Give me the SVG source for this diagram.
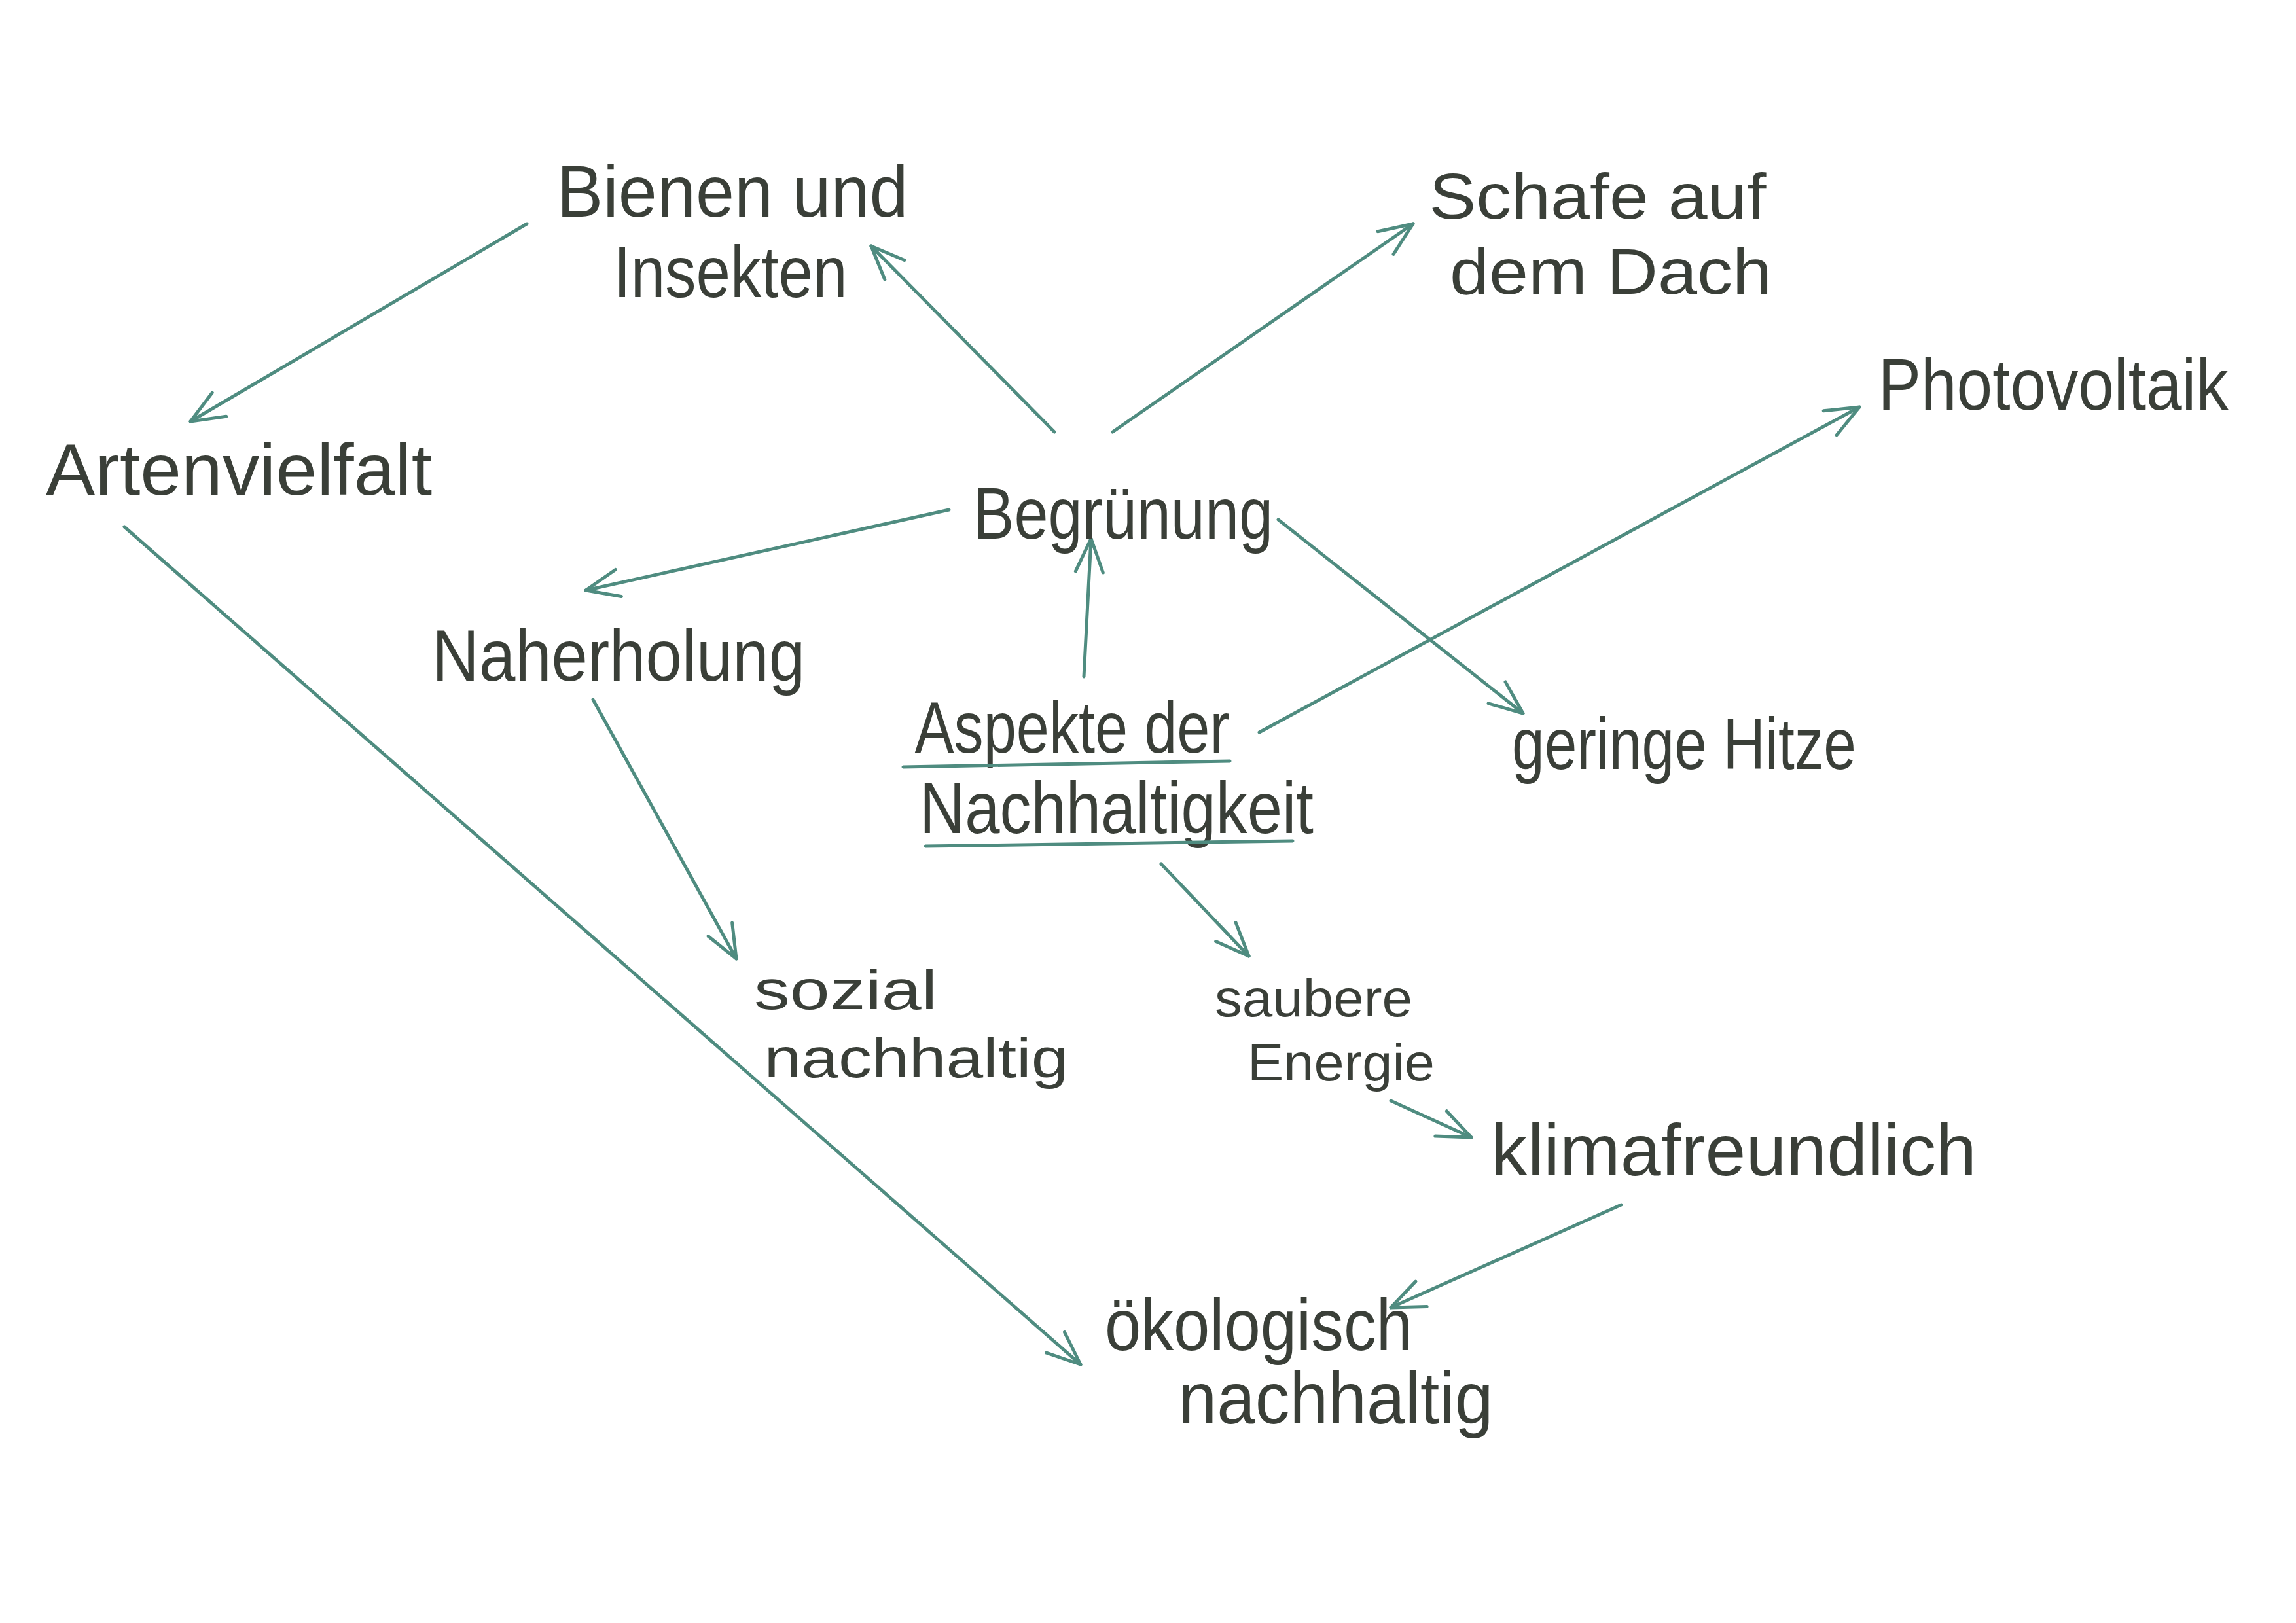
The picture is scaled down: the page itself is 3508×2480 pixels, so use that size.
<svg xmlns="http://www.w3.org/2000/svg" width="3508" height="2480" viewBox="0 0 3508 2480">
<defs>
<style>
.t{font-family:"Liberation Sans",Arial,sans-serif;font-size:112px;fill:#3a3f38;text-anchor:middle}
.m{font-size:98px}
.s{font-size:86px}
.xs{font-size:80px}
.c{stroke:#4f8c80;stroke-width:5;fill:none;stroke-linecap:round}
</style>
<marker id="ah" viewBox="-60 -30 70 60" markerWidth="70" markerHeight="60" refX="0" refY="0" orient="auto" markerUnits="userSpaceOnUse">
<path d="M-51,-21 L0,0 L-51,21" fill="none" stroke="#4f8c80" stroke-width="5" stroke-linecap="round" stroke-linejoin="round"/>
</marker>
</defs>
<rect width="3508" height="2480" fill="#ffffff"/>
<g id="connectors">
<line class="c" x1="1611" y1="660" x2="1331" y2="376" marker-end="url(#ah)"/>
<line class="c" x1="1700" y1="660" x2="2159" y2="342" marker-end="url(#ah)"/>
<line class="c" x1="805" y1="342" x2="291" y2="644" marker-end="url(#ah)"/>
<line class="c" x1="1450" y1="779" x2="895" y2="902" marker-end="url(#ah)"/>
<line class="c" x1="1953" y1="794" x2="2327" y2="1090" marker-end="url(#ah)"/>
<line class="c" x1="1656" y1="1034" x2="1667" y2="823" marker-end="url(#ah)"/>
<line class="c" x1="1924" y1="1119" x2="2841" y2="622" marker-end="url(#ah)"/>
<line class="c" x1="1774" y1="1320" x2="1908" y2="1461" marker-end="url(#ah)"/>
<line class="c" x1="906" y1="1069" x2="1125" y2="1465" marker-end="url(#ah)"/>
<line class="c" x1="190" y1="805" x2="1651" y2="2085" marker-end="url(#ah)"/>
<line class="c" x1="2125" y1="1682" x2="2248" y2="1738" marker-end="url(#ah)"/>
<line class="c" x1="2477" y1="1841" x2="2125" y2="1998" marker-end="url(#ah)"/>
</g>
<g id="node-bienen">
<text class="t" x="1119" y="331" textLength="537" lengthAdjust="spacingAndGlyphs">Bienen und</text>
<text class="t" x="1116" y="454" textLength="357" lengthAdjust="spacingAndGlyphs">Insekten</text>
</g>
<g id="node-schafe">
<text class="t m" x="2441" y="334" textLength="515" lengthAdjust="spacingAndGlyphs">Schafe auf</text>
<text class="t m" x="2461" y="449" textLength="492" lengthAdjust="spacingAndGlyphs">dem Dach</text>
</g>
<g id="node-photovoltaik">
<text class="t" x="3137" y="626" textLength="535" lengthAdjust="spacingAndGlyphs">Photovoltaik</text>
</g>
<g id="node-artenvielfalt">
<text class="t" x="365" y="756" textLength="590" lengthAdjust="spacingAndGlyphs">Artenvielfalt</text>
</g>
<g id="node-begruenung">
<text class="t" x="1716" y="823" textLength="458" lengthAdjust="spacingAndGlyphs">Begrünung</text>
</g>
<g id="node-naherholung">
<text class="t" x="945" y="1040" textLength="570" lengthAdjust="spacingAndGlyphs">Naherholung</text>
</g>
<g id="node-aspekte">
<text class="t" x="1638" y="1150" textLength="481" lengthAdjust="spacingAndGlyphs">Aspekte der</text>
<line class="c" x1="1380" y1="1172" x2="1879" y2="1163"/>
<text class="t" x="1706" y="1273" textLength="602" lengthAdjust="spacingAndGlyphs">Nachhaltigkeit</text>
<line class="c" x1="1414" y1="1293" x2="1975" y2="1285"/>
</g>
<g id="node-hitze">
<text class="t" x="2573" y="1175" textLength="526" lengthAdjust="spacingAndGlyphs">geringe Hitze</text>
</g>
<g id="node-sozial">
<text class="t s" x="1292" y="1542" textLength="280" lengthAdjust="spacingAndGlyphs">sozial</text>
<text class="t s" x="1400" y="1646" textLength="465" lengthAdjust="spacingAndGlyphs">nachhaltig</text>
</g>
<g id="node-energie">
<text class="t xs" x="2007" y="1553" textLength="302" lengthAdjust="spacingAndGlyphs">saubere</text>
<text class="t xs" x="2049" y="1651" textLength="286" lengthAdjust="spacingAndGlyphs">Energie</text>
</g>
<g id="node-klima">
<text class="t" x="2649" y="1796" textLength="742" lengthAdjust="spacingAndGlyphs">klimafreundlich</text>
</g>
<g id="node-oekologisch">
<text class="t" x="1923" y="2063" textLength="470" lengthAdjust="spacingAndGlyphs">ökologisch</text>
<text class="t" x="2041" y="2175" textLength="481" lengthAdjust="spacingAndGlyphs">nachhaltig</text>
</g>
</svg>
